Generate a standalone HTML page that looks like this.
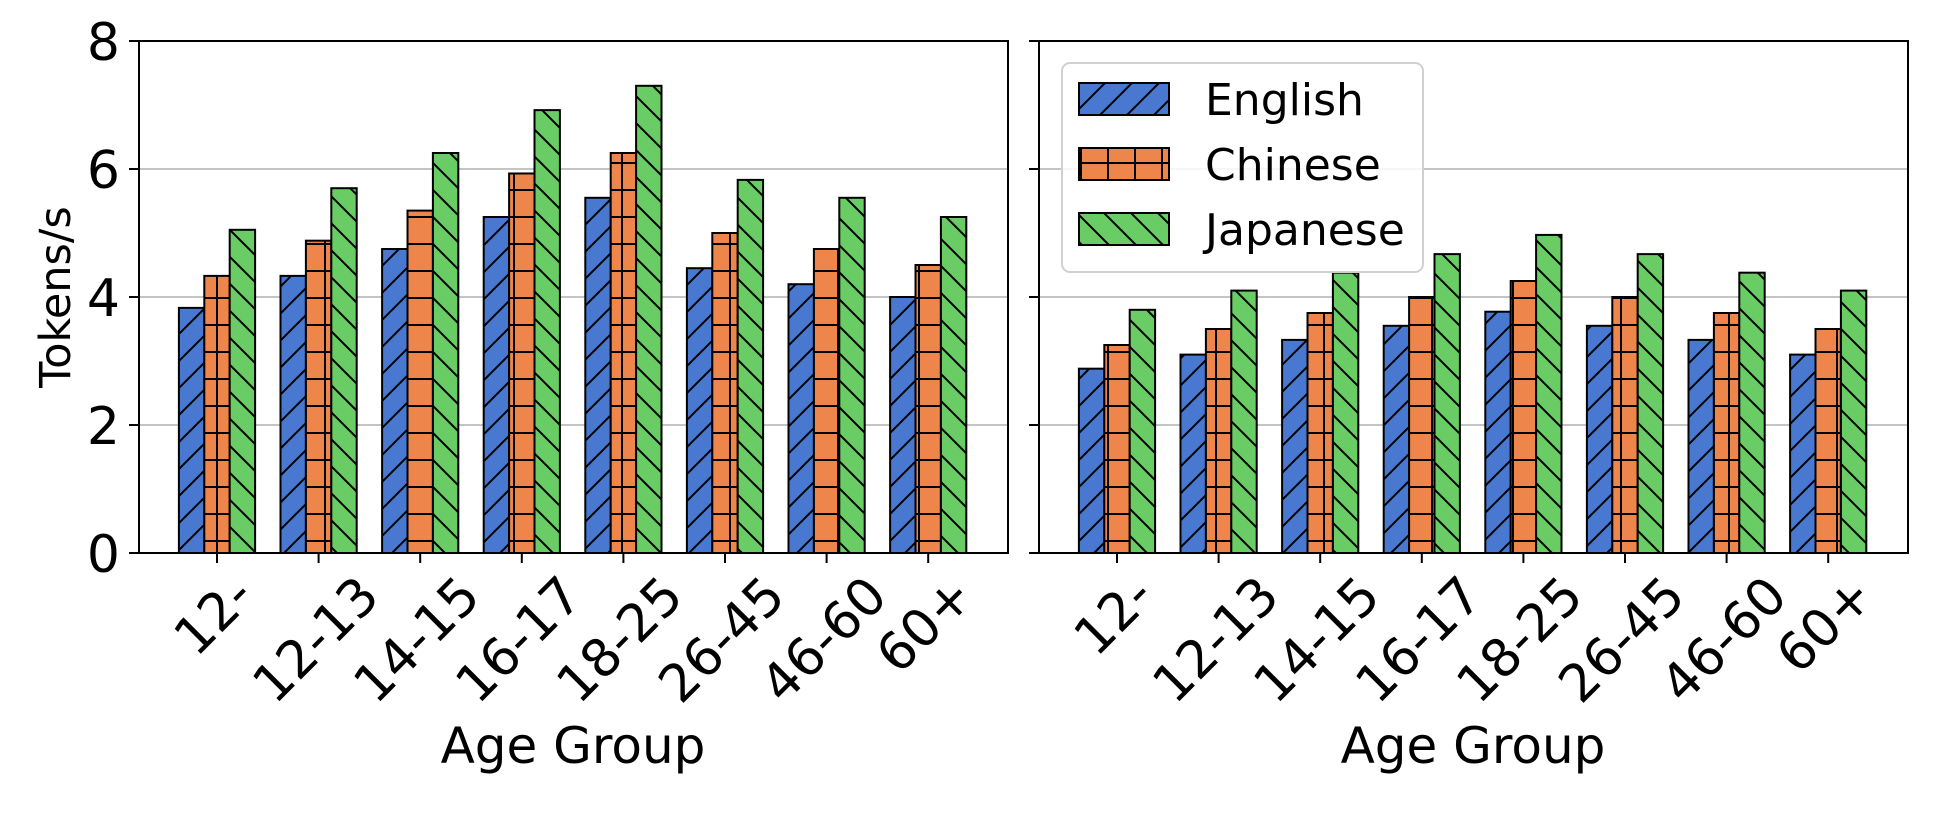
<!DOCTYPE html>
<html><head><meta charset="utf-8"><style>
html,body{margin:0;padding:0;background:#fff;}
svg{display:block;font-family:"DejaVu Sans","Liberation Sans",sans-serif;}
</style></head><body>
<svg id="s" width="1940" height="832" xmlns="http://www.w3.org/2000/svg">
<defs>
<pattern id="hb" patternUnits="userSpaceOnUse" width="27" height="27"><rect width="27" height="27" fill="#4878d0"/><path d="M-2 29L29 -2M-29 29L2 -2M25 29L56 -2" stroke="#000" stroke-width="2"/></pattern>
<pattern id="ho" patternUnits="userSpaceOnUse" width="27" height="27"><rect width="27" height="27" fill="#ee854a"/><path d="M0 1H27M1 0V27" stroke="#000" stroke-width="2"/></pattern>
<pattern id="hg" patternUnits="userSpaceOnUse" width="27" height="27"><rect width="27" height="27" fill="#6acc64"/><path d="M-2 -2L29 29M-29 -2L2 29M25 -2L56 29" stroke="#000" stroke-width="2"/></pattern>
</defs>
<g stroke="#b0b0b0" stroke-width="1.5">
<line x1="139" x2="1008" y1="425" y2="425"/><line x1="139" x2="1008" y1="297" y2="297"/><line x1="139" x2="1008" y1="169" y2="169"/>
<line x1="1039" x2="1908" y1="425" y2="425"/><line x1="1039" x2="1908" y1="297" y2="297"/><line x1="1039" x2="1908" y1="169" y2="169"/>
</g>
<g id="bars"></g>
<g fill="none" stroke="#000" stroke-width="2">
<rect x="139" y="41" width="869" height="512"/>
<rect x="1039" y="41" width="869" height="512"/>
<path d="M139 553h-10M139 425h-10M139 297h-10M139 169h-10M139 41h-10M1039 553h-10M1039 425h-10M1039 297h-10M1039 169h-10M1039 41h-10"/>
<path id="xt"/>
</g>
<g font-size="52" text-anchor="end">
<text x="120" y="572">0</text><text x="120" y="444">2</text><text x="120" y="316">4</text><text x="120" y="188">6</text><text x="120" y="60">8</text>
</g>
<text font-size="43" text-anchor="middle" transform="translate(70,297) rotate(-90)">Tokens/s</text>
<text font-size="50" x="573" y="763" text-anchor="middle">Age Group</text>
<text font-size="50" x="1473" y="763" text-anchor="middle">Age Group</text>
<g font-size="52" text-anchor="middle">
<text dy="0.36em" transform="translate(213,615) rotate(-45)">12-</text>
<text dy="0.36em" transform="translate(315,639) rotate(-45)">12-13</text>
<text dy="0.36em" transform="translate(416,639) rotate(-45)">14-15</text>
<text dy="0.36em" transform="translate(518,639) rotate(-45)">16-17</text>
<text dy="0.36em" transform="translate(619,639) rotate(-45)">18-25</text>
<text dy="0.36em" transform="translate(721,639) rotate(-45)">26-45</text>
<text dy="0.36em" transform="translate(823,639) rotate(-45)">46-60</text>
<text dy="0.36em" transform="translate(924,624) rotate(-45)">60+</text>
<text dy="0.36em" transform="translate(1113,615) rotate(-45)">12-</text>
<text dy="0.36em" transform="translate(1215,639) rotate(-45)">12-13</text>
<text dy="0.36em" transform="translate(1316,639) rotate(-45)">14-15</text>
<text dy="0.36em" transform="translate(1418,639) rotate(-45)">16-17</text>
<text dy="0.36em" transform="translate(1519,639) rotate(-45)">18-25</text>
<text dy="0.36em" transform="translate(1621,639) rotate(-45)">26-45</text>
<text dy="0.36em" transform="translate(1723,639) rotate(-45)">46-60</text>
<text dy="0.36em" transform="translate(1824,624) rotate(-45)">60+</text>
</g>
<rect x="1062" y="63" width="361" height="209" rx="8" fill="#fff" fill-opacity="0.85" stroke="#d0d0d0" stroke-width="2"/>
<rect x="1079" y="83" width="90" height="32" fill="url(#hb)" stroke="#000" stroke-width="2"/>
<rect x="1079" y="148" width="90" height="32" fill="url(#ho)" stroke="#000" stroke-width="2"/>
<rect x="1079" y="213" width="90" height="32" fill="url(#hg)" stroke="#000" stroke-width="2"/>
<g font-size="44"><text x="1205" y="115">English</text><text x="1205" y="180">Chinese</text><text x="1205" y="245">Japanese</text></g>
</svg>
<script>
var L=[[3.83,4.33,4.75,5.25,5.55,4.45,4.2,4.0],[4.33,4.88,5.35,5.93,6.25,5.0,4.75,4.5],[5.05,5.7,6.25,6.92,7.3,5.83,5.55,5.25]];
var R=[[2.88,3.1,3.33,3.55,3.77,3.55,3.33,3.1],[3.25,3.5,3.75,4.0,4.25,4.0,3.75,3.5],[3.8,4.1,4.38,4.67,4.97,4.67,4.38,4.1]];
var f=['url(#hb)','url(#ho)','url(#hg)'],h='',t='',sp=101.6,w=25.4;
[[L,217],[R,1117]].forEach(function(p){for(var i=0;i<8;i++){var c=p[1]+i*sp;t+='M'+c+' 553v10';for(var k=0;k<3;k++){var v=p[0][k][i],x=c-1.5*w+k*w,y=553-v*64;h+='<rect x="'+x+'" y="'+y+'" width="'+w+'" height="'+(v*64)+'" fill="'+f[k]+'" stroke="#000" stroke-width="2"/>';}}});
document.getElementById('bars').innerHTML=h;document.getElementById('xt').setAttribute('d',t);
</script>
</body></html>
